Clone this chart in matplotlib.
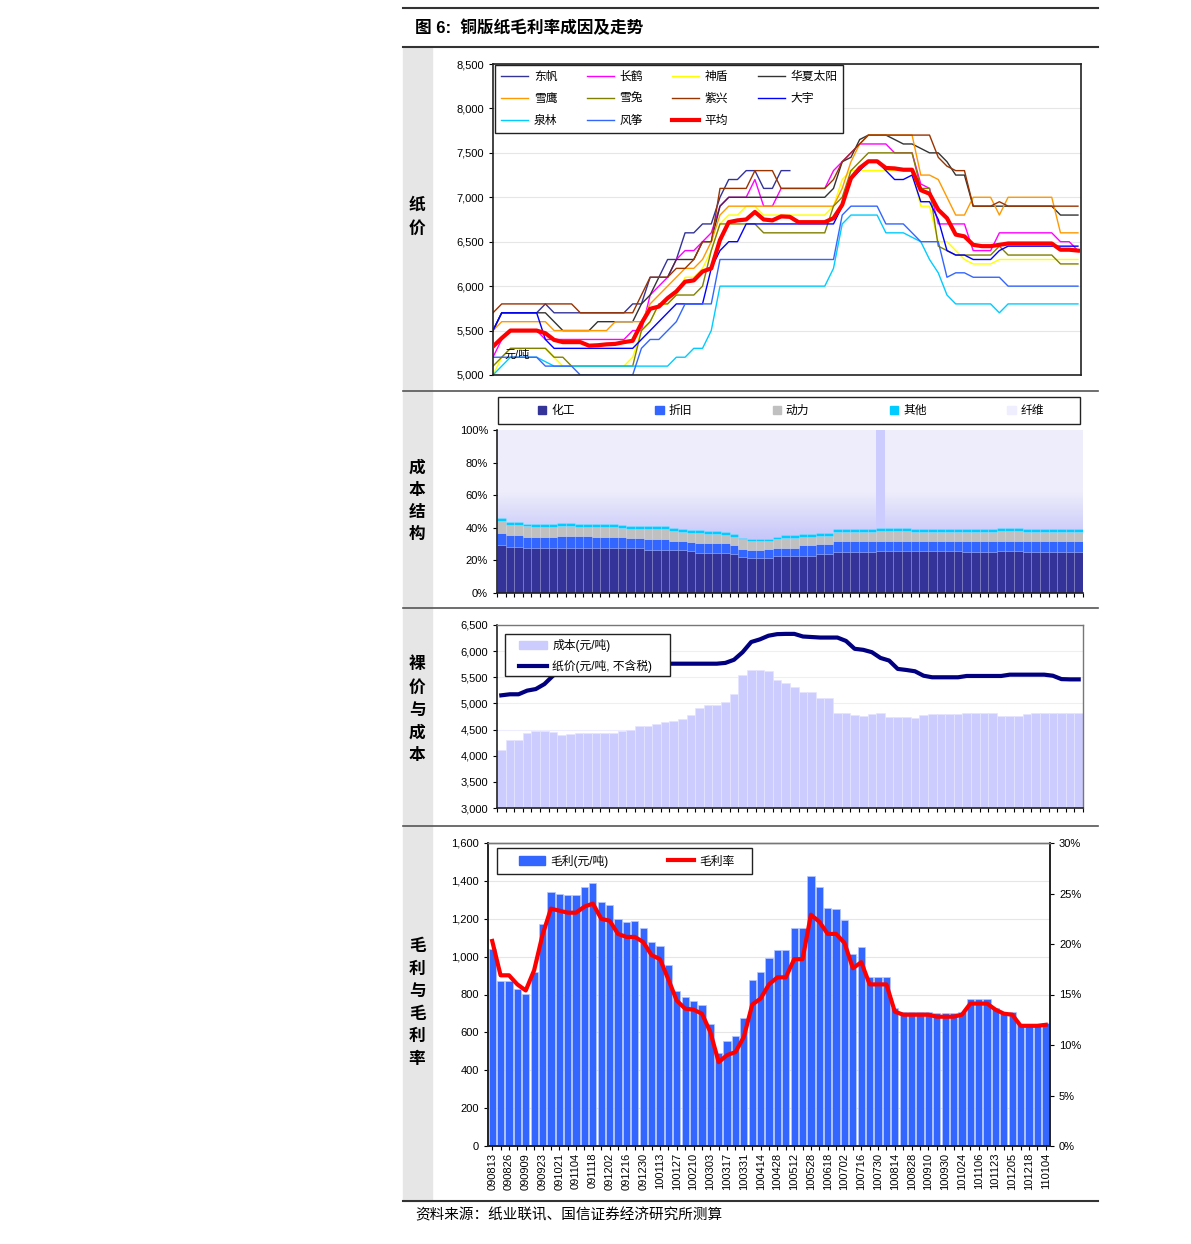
import numpy as np
import matplotlib
matplotlib.use('Agg')
import matplotlib.pyplot as plt
from matplotlib.patches import Patch, Rectangle
from matplotlib.lines import Line2D
from matplotlib.ticker import FuncFormatter, MultipleLocator

plt.rcParams['font.family'] = ['Liberation Sans', 'Noto Sans CJK SC']
plt.rcParams['axes.unicode_minus'] = False

nan = np.nan

# ---- panel 1: paper prices by mill (yuan/t), 68 weeks ----
dongfan = [5500, 5700, 5700, 5700, 5700, 5700, 5800, 5700, 5700, 5700,
           5700, 5700, 5700, 5700, 5700, 5700, 5800, 5800, 6100, 6100,
           6300, 6300, 6600, 6600, 6700, 6700, 7000, 7200, 7200, 7300,
           7300, 7100, 7100, 7300, 7300] + [nan] * 33
changhe = [5200, 5400, 5500, 5500, 5500, 5500, 5400, 5400, 5400, 5400,
           5400, 5400, 5400, 5400, 5400, 5400, 5500, 5500, 5900, 6000,
           6100, 6300, 6400, 6400, 6500, 6600, 6900, 7000, 7000, 7000,
           7200, 6900, 6900, 7100, 7100, 7100, 7100, 7100, 7100, 7300,
           7400, 7500, 7600, 7600, 7600, 7600, 7500, 7500, 7500, 7150,
           7100, 6700, 6700, 6700, 6700, 6400, 6400, 6400, 6600, 6600,
           6600, 6600, 6600, 6600, 6600, 6500, 6500, 6400]
shendun = [5000, 5200, 5300, 5300, 5300, 5300, 5300, 5200, 5100, 5100,
           5100, 5100, 5100, 5100, 5100, 5100, 5200, 5500, 5600, 5800,
           5800, 5900, 6100, 6100, 6200, 6400, 6700, 6800, 6800, 6900,
           6900, 6800, 6800, 6800, 6800, 6800, 6800, 6800, 6800, 6900,
           7200, 7300, 7300, 7300, 7300, 7300, 7300, 7300, 7300, 6900,
           6900, 6500, 6500, 6400, 6300, 6250, 6250, 6250, 6300, 6300,
           6300, 6300, 6300, 6300, 6300, 6300, 6300, 6300]
huaxia = [5500, 5700, 5700, 5700, 5700, 5700, 5700, 5600, 5500, 5500,
          5500, 5500, 5600, 5600, 5600, 5600, 5600, 5800, 5900, 6100,
          6100, 6300, 6300, 6300, 6500, 6500, 6900, 7000, 7000, 7000,
          7000, 7000, 7000, 7000, 7000, 7000, 7000, 7000, 7000, 7100,
          7400, 7450, 7650, 7700, 7700, 7700, 7650, 7600, 7600, 7550,
          7500, 7500, 7400, 7250, 7250, 6900, 6900, 6900, 6900, 6900,
          6900, 6900, 6900, 6900, 6900, 6800, 6800, 6800]
xueying = [5500, 5600, 5600, 5600, 5600, 5600, 5600, 5500, 5500, 5500,
           5500, 5500, 5500, 5500, 5600, 5600, 5600, 5600, 5800, 5900,
           6000, 6100, 6200, 6200, 6300, 6500, 6800, 6900, 6900, 6900,
           6900, 6900, 6900, 6900, 6900, 6900, 6900, 6900, 6900, 6900,
           7100, 7400, 7600, 7700, 7700, 7700, 7700, 7700, 7700, 7250,
           7250, 7200, 7000, 6800, 6800, 7000, 7000, 7000, 6800, 7000,
           7000, 7000, 7000, 7000, 7000, 6600, 6600, 6600]
xuetu = [5100, 5200, 5300, 5300, 5300, 5300, 5300, 5200, 5200, 5100,
         5100, 5100, 5100, 5100, 5100, 5100, 5100, 5500, 5600, 5800,
         5800, 5900, 5900, 5900, 6000, 6400, 6700, 6700, 6700, 6700,
         6700, 6600, 6600, 6600, 6600, 6600, 6600, 6600, 6600, 6900,
         7000, 7300, 7400, 7500, 7500, 7500, 7500, 7500, 7500, 7100,
         7100, 6450, 6400, 6350, 6350, 6350, 6350, 6350, 6450, 6350,
         6350, 6350, 6350, 6350, 6350, 6250, 6250, 6250]
zixing = [5700, 5800, 5800, 5800, 5800, 5800, 5800, 5800, 5800, 5800,
          5700, 5700, 5700, 5700, 5700, 5700, 5700, 5900, 6100, 6100,
          6100, 6200, 6200, 6300, 6500, 6500, 7100, 7100, 7100, 7100,
          7300, 7300, 7300, 7100, 7100, 7100, 7100, 7100, 7100, 7200,
          7400, 7500, 7600, 7700, 7700, 7700, 7700, 7700, 7700, 7700,
          7700, 7450, 7350, 7300, 7300, 6900, 6900, 6900, 6950, 6900,
          6900, 6900, 6900, 6900, 6900, 6900, 6900, 6900]
dayu = [5500, 5700, 5700, 5700, 5700, 5700, 5400, 5300, 5300, 5300,
        5300, 5300, 5300, 5300, 5300, 5300, 5300, 5400, 5500, 5600,
        5700, 5800, 5800, 5800, 5800, 6200, 6400, 6500, 6500, 6700,
        6700, 6700, 6700, 6700, 6700, 6700, 6700, 6700, 6700, 6700,
        6900, 7200, 7300, 7400, 7400, 7300, 7200, 7200, 7250, 6950,
        6950, 6750, 6400, 6350, 6350, 6300, 6300, 6300, 6400, 6450,
        6450, 6450, 6450, 6450, 6450, 6450, 6450, 6450]
quanlin = [5000, 5100, 5200, 5200, 5200, 5200, 5150, 5100, 5100, 5100,
           5100, 5100, 5100, 5100, 5100, 5100, 5100, 5100, 5100, 5100,
           5100, 5200, 5200, 5300, 5300, 5500, 6000, 6000, 6000, 6000,
           6000, 6000, 6000, 6000, 6000, 6000, 6000, 6000, 6000, 6200,
           6700, 6800, 6800, 6800, 6800, 6600, 6600, 6600, 6550, 6500,
           6300, 6150, 5900, 5800, 5800, 5800, 5800, 5800, 5700, 5800,
           5800, 5800, 5800, 5800, 5800, 5800, 5800, 5800]
fengzheng = [5200, 5200, 5200, 5200, 5200, 5200, 5100, 5100, 5100, 5100,
             5000, 5000, 5000, 5000, 5000, 5000, 5000, 5300, 5400, 5400,
             5500, 5600, 5800, 5800, 5800, 5800, 6300, 6300, 6300, 6300,
             6300, 6300, 6300, 6300, 6300, 6300, 6300, 6300, 6300, 6300,
             6800, 6900, 6900, 6900, 6900, 6700, 6700, 6700, 6600, 6500,
             6500, 6500, 6100, 6150, 6150, 6100, 6100, 6100, 6100, 6000,
             6000, 6000, 6000, 6000, 6000, 6000, 6000, 6000]
average = [5320, 5415, 5500, 5500, 5500, 5500, 5470, 5395, 5370, 5370,
           5370, 5330, 5335, 5345, 5350, 5370, 5385, 5580, 5745, 5770,
           5865, 5940, 6050, 6065, 6165, 6200, 6520, 6720, 6740, 6750,
           6835, 6750, 6740, 6785, 6780, 6720, 6720, 6720, 6720, 6765,
           6915, 7215, 7330, 7405, 7405, 7330, 7325, 7310, 7310, 7080,
           7040, 6860, 6765, 6580, 6560, 6465, 6450, 6450, 6465, 6480,
           6480, 6480, 6480, 6480, 6480, 6410, 6410, 6400]

# ---- panel 2: cost structure (%), 68 weeks ----
chem = [29.4, 28.4, 28.4, 27.6, 27.6, 27.6, 27.6, 27.6, 27.6, 27.6,
        27.6, 27.6, 27.6, 27.6, 27.6, 27.6, 27.6, 26.4, 26.4, 26.4,
        26.4, 26.4, 25.7, 24.5, 24.5, 24.5, 24.5, 23.7, 22.0, 21.2,
        21.2, 21.2, 22.4, 22.4, 22.4, 23.0, 23.0, 23.9, 23.9, 25.1,
        25.1, 25.1, 25.1, 24.9, 25.5, 25.5, 25.5, 25.5, 25.5, 25.5,
        25.5, 25.5, 25.5, 25.5, 24.9, 24.9, 24.9, 24.9, 25.5, 25.5,
        25.5, 24.9, 24.9, 24.9, 24.9, 24.9, 24.9, 24.9]
depr = [7.7, 6.9, 6.9, 6.9, 6.9, 6.9, 6.9, 7.1, 7.1, 7.1,
        7.1, 6.5, 6.5, 6.5, 6.5, 5.9, 5.9, 6.5, 6.5, 6.5,
        5.8, 5.8, 5.7, 5.9, 5.9, 5.9, 5.9, 5.5, 5.3, 5.3,
        5.3, 5.9, 5.4, 5.4, 5.4, 6.2, 6.2, 5.9, 5.9, 6.5,
        6.5, 6.5, 7.1, 6.7, 6.7, 6.7, 6.7, 6.7, 6.1, 6.1,
        6.1, 6.1, 6.1, 6.1, 6.7, 6.7, 6.7, 6.7, 6.7, 6.7,
        6.7, 6.7, 6.7, 6.7, 6.7, 6.7, 6.7, 6.7]
power = [7.2, 6.6, 6.6, 6.3, 5.9, 5.9, 5.9, 6.5, 6.5, 5.9,
         5.9, 6.5, 6.5, 6.5, 5.9, 5.9, 5.9, 6.5, 6.1, 6.1,
         6.0, 5.2, 5.2, 6.2, 5.8, 5.8, 5.0, 5.0, 5.7, 5.6,
         5.6, 5.0, 5.3, 5.7, 5.7, 5.3, 5.3, 5.3, 5.3, 6.0,
         6.0, 6.0, 5.4, 6.0, 6.0, 6.0, 6.0, 6.0, 6.0, 6.0,
         6.0, 6.0, 6.0, 6.0, 6.0, 6.0, 6.0, 6.0, 5.8, 5.8,
         5.8, 6.0, 6.0, 6.0, 6.0, 6.0, 6.0, 6.0]
other = [2.0, 1.8, 1.8, 1.8, 1.8, 1.8, 1.8, 1.8, 1.8, 1.8,
         1.8, 1.8, 1.8, 1.8, 1.8, 1.8, 1.8, 1.8, 1.8, 1.8,
         1.8, 1.8, 1.8, 1.8, 1.8, 1.8, 1.8, 1.8, 1.0, 1.0,
         1.0, 1.0, 1.4, 1.8, 1.8, 1.8, 1.8, 1.8, 1.8, 1.8,
         1.8, 1.8, 1.8, 1.8, 1.8, 1.8, 1.8, 1.8, 1.8, 1.8,
         1.8, 1.8, 1.8, 1.8, 1.8, 1.8, 1.8, 1.8, 1.8, 1.8,
         1.8, 1.8, 1.8, 1.8, 1.8, 1.8, 1.8, 1.8]
solid_fiber_bar = 44

# ---- panel 3: cost and net price (yuan/t), 68 weeks ----
cost = [4110, 4300, 4300, 4430, 4470, 4470, 4450, 4395, 4415, 4430,
        4430, 4430, 4430, 4430, 4470, 4490, 4570, 4570, 4605, 4650,
        4670, 4695, 4775, 4920, 4965, 4965, 5030, 5175, 5540, 5635,
        5635, 5615, 5445, 5395, 5320, 5225, 5225, 5110, 5110, 4820,
        4820, 4775, 4755, 4795, 4820, 4745, 4745, 4745, 4725, 4775,
        4795, 4795, 4795, 4795, 4820, 4820, 4820, 4820, 4755, 4755,
        4755, 4795, 4820, 4820, 4820, 4820, 4820, 4820]
price = [5155, 5175, 5175, 5245, 5275, 5370, 5530, 5640, 5720, 5750,
         5760, 5760, 5760, 5760, 5760, 5760, 5760, 5760, 5760, 5760,
         5760, 5760, 5760, 5760, 5760, 5760, 5775, 5835, 5980, 6175,
         6225, 6295, 6325, 6330, 6330, 6280, 6270, 6260, 6260, 6260,
         6195, 6045, 6025, 5980, 5870, 5820, 5660, 5640, 5615, 5530,
         5500, 5500, 5500, 5500, 5525, 5525, 5525, 5525, 5525, 5550,
         5550, 5550, 5550, 5550, 5530, 5465, 5460, 5460]

# ---- panel 4: gross profit (yuan/t) and gross margin (%), 67 weeks ----
profit = [1040, 870, 870, 830, 805, 920, 1170, 1340, 1330, 1325,
          1325, 1370, 1390, 1290, 1275, 1200, 1185, 1190, 1150, 1075,
          1055, 955, 820, 785, 765, 745, 645, 490, 553, 582,
          675, 875, 920, 995, 1035, 1035, 1150, 1150, 1425, 1370,
          1255, 1250, 1195, 1015, 1050, 890, 890, 895, 730, 705,
          705, 705, 705, 700, 700, 700, 705, 775, 775, 775,
          730, 705, 705, 645, 645, 645, 650]
margin = [20.3, 16.9, 16.9, 16.0, 15.4, 17.4, 20.9, 23.5, 23.3, 23.1,
          23.1, 23.7, 24.0, 22.5, 22.3, 21.0, 20.7, 20.7, 20.2, 18.9,
          18.5, 16.5, 14.4, 13.6, 13.5, 13.1, 11.3, 8.3, 9.0, 9.3,
          10.8, 14.0, 14.6, 16.0, 16.7, 16.7, 18.5, 18.5, 22.9, 22.2,
          21.0, 21.0, 20.1, 17.6, 18.2, 16.0, 16.0, 16.0, 13.3, 13.0,
          13.0, 13.0, 13.0, 12.8, 12.8, 12.8, 13.0, 14.1, 14.1, 14.1,
          13.5, 13.1, 13.0, 11.9, 11.9, 11.9, 12.0]
date_labels = ['090813', '090826', '090909', '090923', '091021', '091104',
               '091118', '091202', '091216', '091230', '100113', '100127',
               '100210', '100303', '100317', '100331', '100414', '100428',
               '100512', '100528', '100618', '100702', '100716', '100730',
               '100814', '100828', '100910', '100930', '101024', '101106',
               '101123', '101205', '101218', '110104']

W, H = 1191, 1244
fig = plt.figure(figsize=(W / 100, H / 100), dpi=100)


def box(x0, y0, x1, y1):
    return [x0 / W, 1 - y1 / H, (x1 - x0) / W, (y1 - y0) / H]


def fig_xy(x, y):
    return (x / W, 1 - y / H)


def hline(y, lw, color='#333333'):
    fig.add_artist(Line2D([403 / W, 1098 / W], [1 - y / H, 1 - y / H],
                          transform=fig.transFigure, color=color, lw=lw))


def frame(x0, y0, x1, y1):
    fig.add_artist(Rectangle(fig_xy(x0, y1), (x1 - x0) / W, (y1 - y0) / H,
                             transform=fig.transFigure, facecolor='white',
                             edgecolor='#222222', lw=1.0, zorder=5))


# page frame
fig.add_artist(Rectangle(fig_xy(403, 1201), 29 / W, (1201 - 48) / H,
                         transform=fig.transFigure, color='#E6E6E6', zorder=0))
hline(8, 1.5)
hline(47, 1.5)
hline(391, 1.2, '#555555')
hline(608, 1.2, '#555555')
hline(826, 1.2, '#555555')
hline(1201, 1.5)

fig.text(415 / W, 1 - 28 / H, '图 6:  铜版纸毛利率成因及走势', fontsize=12,
         fontweight='bold', va='center', ha='left')
fig.text(415 / W, 1 - 1215 / H, '资料来源：纸业联讯、国信证券经济研究所测算',
         fontsize=10.5, va='center', ha='left')

for label, yc in [('纸价', 217), ('成本结构', 501), ('裸价与成本', 710), ('毛利与毛利率', 1003)]:
    fig.text(417 / W, 1 - yc / H, '\n'.join(label), fontsize=12, fontweight='bold',
             ha='center', va='center', linespacing=1.6)

tick_fs = 8
leg_fs = 8.5


def style_spines(ax, dark=('left', 'bottom'), light=('top', 'right'), hide=()):
    for s in dark:
        ax.spines[s].set_color('#222222')
        ax.spines[s].set_linewidth(1.2)
    for s in light:
        ax.spines[s].set_color('#777777')
        ax.spines[s].set_linewidth(1.0)
    for s in hide:
        ax.spines[s].set_visible(False)


# ---------- panel 1 ----------
ax1 = fig.add_axes(box(493, 64, 1081, 375))
xw = np.arange(68)
series = [
    ('东帆', dongfan, '#333399', 1.0),
    ('长鹤', changhe, '#FF00FF', 1.0),
    ('神盾', shendun, '#FFFF00', 1.0),
    ('华夏太阳', huaxia, '#333333', 1.0),
    ('雪鹰', xueying, '#FF9900', 1.0),
    ('雪兔', xuetu, '#808000', 1.0),
    ('紫兴', zixing, '#993300', 1.0),
    ('大宇', dayu, '#0000FF', 1.0),
    ('泉林', quanlin, '#00CCFF', 1.0),
    ('风筝', fengzheng, '#3366FF', 1.0),
    ('平均', average, '#FF0000', 3.0),
]
handles = {}
for name, vals, col, lw in series:
    ln, = ax1.plot(xw, vals, color=col, lw=lw, label=name, zorder=3 if lw > 2 else 2)
    handles[name] = ln
ax1.set_xlim(0, 67.35)
ax1.set_ylim(5000, 8500)
ax1.yaxis.set_major_locator(MultipleLocator(500))
ax1.yaxis.set_major_formatter(FuncFormatter(lambda v, p: f'{v:,.0f}'))
ax1.set_xticks([])
ax1.tick_params(axis='y', labelsize=tick_fs, length=3)
ax1.grid(axis='y', color='#E6E6E6', lw=0.8)
ax1.set_axisbelow(True)
style_spines(ax1, dark=('left', 'bottom', 'top', 'right'), light=())
order = ['东帆', '雪鹰', '泉林', '长鹤', '雪兔', '风筝', '神盾', '紫兴', '平均', '华夏太阳', '大宇']
leg1 = ax1.legend([handles[n] for n in order], order, ncol=4, loc='upper left',
                  bbox_to_anchor=(0.004, 0.997), borderaxespad=0, fontsize=leg_fs,
                  frameon=True, fancybox=False, edgecolor='#222222', framealpha=1,
                  handlelength=2.3, handletextpad=0.45, columnspacing=2.5,
                  labelspacing=0.85, borderpad=0.5)
leg1.get_frame().set_linewidth(1.0)
ax1.text(0.02, 0.065, '元/吨', transform=ax1.transAxes, fontsize=8, ha='left', va='center')

# ---------- panel 2 ----------
ax2 = fig.add_axes(box(497, 430, 1083, 593))
yy = np.linspace(0, 100, 400)
t = np.clip((yy - 34) / 28, 0, 1)[:, None]
dark = np.array([0.78, 0.78, 0.98])
light = np.array([0.93, 0.93, 0.985])
grad = (dark + (light - dark) * t)[:, None, :]
ax2.imshow(grad, extent=[-0.5, 67.5, 0, 100], aspect='auto', origin='lower', zorder=0)
chem_a, depr_a, power_a, other_a = map(np.array, (chem, depr, power, other))
b1 = chem_a
b2 = b1 + depr_a
b3 = b2 + power_a
b4 = b3 + other_a
edge = (1, 1, 1, 0.25)
ax2.bar(xw, chem_a, width=1.0, color='#333399', edgecolor=edge, lw=0.4, zorder=2)
ax2.bar(xw, depr_a, bottom=b1, width=1.0, color='#3366FF', edgecolor=edge, lw=0.4, zorder=2)
ax2.bar(xw, power_a, bottom=b2, width=1.0, color='#C0C0C0', edgecolor=edge, lw=0.4, zorder=2)
ax2.bar(xw, other_a, bottom=b3, width=1.0, color='#00CCFF', edgecolor=edge, lw=0.4, zorder=2)
ax2.bar(solid_fiber_bar, 100 - b4[solid_fiber_bar], bottom=b4[solid_fiber_bar], width=1.0,
        color='#CCCCFF', zorder=2)
ax2.set_xlim(-0.5, 67.5)
ax2.set_ylim(0, 100)
ax2.yaxis.set_major_locator(MultipleLocator(20))
ax2.yaxis.set_major_formatter(FuncFormatter(lambda v, p: f'{v:.0f}%'))
ax2.set_xticks(np.arange(-0.5, 68, 1))
ax2.set_xticklabels([])
ax2.tick_params(axis='x', length=3, width=0.8)
ax2.tick_params(axis='y', labelsize=tick_fs, length=3)
style_spines(ax2, light=(), hide=('top', 'right'))

frame(498, 397, 1080, 424)
leg2_handles = [Patch(color='#333399'), Patch(color='#3366FF'), Patch(color='#C0C0C0'),
                Patch(color='#00CCFF'), Patch(color='#EEEEFF')]
leg2 = fig.legend(leg2_handles, ['化工', '折旧', '动力', '其他', '纤维'], ncol=5, loc='center',
                  bbox_to_anchor=fig_xy(791, 411), frameon=False, fontsize=leg_fs,
                  handlelength=0.7, handleheight=0.7, handletextpad=0.4, columnspacing=6.85)
leg2.set_zorder(6)

# ---------- panel 3 ----------
ax3 = fig.add_axes(box(497, 625, 1083, 808))
ax3.bar(xw, cost, width=1.0, color='#CCCCFF', edgecolor='#E4E4FF', lw=0.5, zorder=2)
price_line, = ax3.plot(xw, price, color='#000080', lw=3, zorder=3)
ax3.set_xlim(-0.5, 67.5)
ax3.set_ylim(3000, 6500)
ax3.yaxis.set_major_locator(MultipleLocator(500))
ax3.yaxis.set_major_formatter(FuncFormatter(lambda v, p: f'{v:,.0f}'))
ax3.set_xticks(np.arange(-0.5, 68, 1))
ax3.set_xticklabels([])
ax3.tick_params(axis='x', length=3, width=0.8)
ax3.tick_params(axis='y', labelsize=tick_fs, length=3)
ax3.grid(axis='y', color='#EDEDFF', lw=0.8)
ax3.set_axisbelow(True)
style_spines(ax3)
frame(505, 634, 670, 676)
leg3 = fig.legend([Patch(color='#CCCCFF'), price_line], ['成本(元/吨)', '纸价(元/吨, 不含税)'],
                  loc='upper left', bbox_to_anchor=fig_xy(519, 639), borderpad=0,
                  borderaxespad=0, fontsize=leg_fs, frameon=False, handlelength=2.4,
                  handletextpad=0.4, labelspacing=0.65)
leg3.set_zorder(6)

# ---------- panel 4 ----------
ax4 = fig.add_axes(box(488, 843, 1050, 1146))
x4 = np.arange(67)
ax4.bar(x4, profit, width=0.86, color='#3366FF', edgecolor='#B8C8FF', lw=0.5, zorder=2)
ax4.set_xlim(-0.5, 66.5)
ax4.set_ylim(0, 1600)
ax4.yaxis.set_major_locator(MultipleLocator(200))
ax4.yaxis.set_major_formatter(FuncFormatter(lambda v, p: f'{v:,.0f}'))
ax4.set_xticks(x4)
ax4.set_xticklabels([date_labels[i // 2] if i % 2 == 0 else '' for i in x4],
                    rotation=90, fontsize=8)
ax4.tick_params(axis='x', length=3, width=0.8, pad=2)
ax4.tick_params(axis='y', labelsize=tick_fs, length=3)
ax4.grid(axis='y', color='#E6E6E6', lw=0.8)
ax4.set_axisbelow(True)
ax4b = ax4.twinx()
line4, = ax4b.plot(x4, margin, color='#FF0000', lw=3, zorder=3)
ax4b.set_ylim(0, 30)
ax4b.yaxis.set_major_locator(MultipleLocator(5))
ax4b.yaxis.set_major_formatter(FuncFormatter(lambda v, p: f'{v:.0f}%'))
ax4b.tick_params(axis='y', labelsize=tick_fs, length=3)
style_spines(ax4, light=('top',), dark=('left', 'bottom', 'right'))
style_spines(ax4b, light=('top',), dark=('left', 'bottom', 'right'))
frame(497, 848, 752, 874)
leg4 = fig.legend([Patch(color='#3366FF'), line4], ['毛利(元/吨)', '毛利率'], ncol=2,
                  loc='center left', bbox_to_anchor=fig_xy(519, 861), borderpad=0,
                  borderaxespad=0, fontsize=leg_fs, frameon=False, handlelength=2.2,
                  handletextpad=0.45, columnspacing=5.0)
leg4.set_zorder(6)

fig.savefig('out.png', dpi=100)
